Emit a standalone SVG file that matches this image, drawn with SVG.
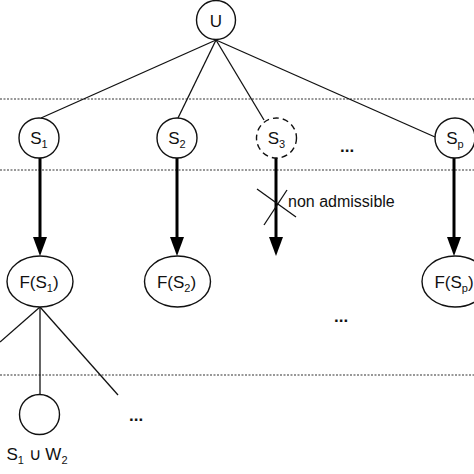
<svg xmlns="http://www.w3.org/2000/svg" width="474" height="474" viewBox="0 0 474 474">
<defs>
<style>
.n{fill:#fff;stroke:#111;stroke-width:1.4}
.t{font-family:"Liberation Sans",Arial,sans-serif;font-size:17px;fill:#111;text-anchor:middle}
.s{font-size:11px}
.e{fill:none;stroke:#111;stroke-width:1.3}
.a{fill:none;stroke:#000;stroke-width:3}
.sep{stroke:#333;stroke-width:1.2;stroke-dasharray:2 1.5}
.dots{font-family:"Liberation Sans",Arial,sans-serif;font-size:17px;font-weight:bold;fill:#111}
</style>
<marker id="ah" viewBox="0 0 14 20" refX="7" refY="20" markerWidth="14" markerHeight="20" markerUnits="userSpaceOnUse" orient="auto-start-reverse">
<path d="M0,0 L14,0 L7,20 Z" fill="#000" transform="rotate(0)"/>
</marker>
</defs>
<rect width="474" height="474" fill="#fff"/>
<g id="separators">
<line class="sep" x1="0" y1="99" x2="474" y2="99"/>
<line class="sep" x1="0" y1="170" x2="474" y2="170"/>
<line class="sep" x1="0" y1="375" x2="474" y2="375"/>
</g>
<g id="connectors">
<line class="e" x1="216" y1="40" x2="41" y2="118"/>
<line class="e" x1="216" y1="40" x2="178" y2="118"/>
<line class="e" x1="216" y1="40" x2="264" y2="120"/>
<line class="e" x1="216" y1="40" x2="435" y2="137"/>
<line class="a" x1="40" y1="158" x2="40" y2="237"/>
<path d="M33,237 L47,237 L40,256 Z" fill="#000"/>
<line class="a" x1="177" y1="158" x2="177" y2="237"/>
<path d="M170,237 L184,237 L177,256 Z" fill="#000"/>
<line class="a" x1="276" y1="158" x2="276" y2="237"/>
<path d="M269,237 L283,237 L276,256 Z" fill="#000"/>
<line class="a" x1="454" y1="158" x2="454" y2="237"/>
<path d="M447,237 L461,237 L454,256 Z" fill="#000"/>
<line class="e" x1="257" y1="189" x2="296" y2="217"/>
<line class="e" x1="264" y1="225" x2="287" y2="190"/>
<line class="e" x1="40" y1="307" x2="0" y2="342"/>
<line class="e" x1="40" y1="307" x2="40" y2="395"/>
<line class="e" x1="40" y1="307" x2="118" y2="395"/>
</g>
<g id="U"><circle class="n" cx="216" cy="20" r="19.5"/><text class="t" x="216" y="27">U</text></g>
<g id="S1"><circle class="n" cx="39" cy="138" r="20"/><text class="t" x="39" y="144">S<tspan class="s" dy="4">1</tspan></text></g>
<g id="S2"><circle class="n" cx="177" cy="138" r="20"/><text class="t" x="177" y="144">S<tspan class="s" dy="4">2</tspan></text></g>
<g id="S3"><circle class="n" cx="276.5" cy="138" r="20" stroke-dasharray="6 4"/><text class="t" x="276.5" y="144">S<tspan class="s" dy="4">3</tspan></text></g>
<g id="Sp"><circle class="n" cx="455" cy="138" r="20"/><text class="t" x="455" y="144">S<tspan class="s" dy="4">p</tspan></text></g>
<g id="FS1"><ellipse class="n" cx="40" cy="281.5" rx="33" ry="25.5"/><text class="t" x="39" y="288">F(S<tspan class="s" dy="4">1</tspan><tspan dy="-4">)</tspan></text></g>
<g id="FS2"><ellipse class="n" cx="177.5" cy="281.5" rx="33" ry="25.5"/><text class="t" x="176.5" y="288">F(S<tspan class="s" dy="4">2</tspan><tspan dy="-4">)</tspan></text></g>
<g id="FSp"><ellipse class="n" cx="455" cy="281.5" rx="33" ry="25.5"/><text class="t" x="454" y="288">F(S<tspan class="s" dy="4">p</tspan><tspan dy="-4">)</tspan></text></g>
<g id="W"><circle class="n" cx="39.5" cy="414.5" r="20"/><text class="t" x="37" y="460">S<tspan class="s" dy="4">1</tspan><tspan dy="-4"> ∪ W</tspan><tspan class="s" dy="4">2</tspan></text></g>
<g id="labels">
<text x="288" y="207" font-family="Liberation Sans, Arial, sans-serif" font-size="16" fill="#111">non admissible</text>
<text class="dots" x="340" y="152">...</text>
<text class="dots" x="334" y="322">...</text>
<text class="dots" x="129" y="421">...</text>
</g>
</svg>
